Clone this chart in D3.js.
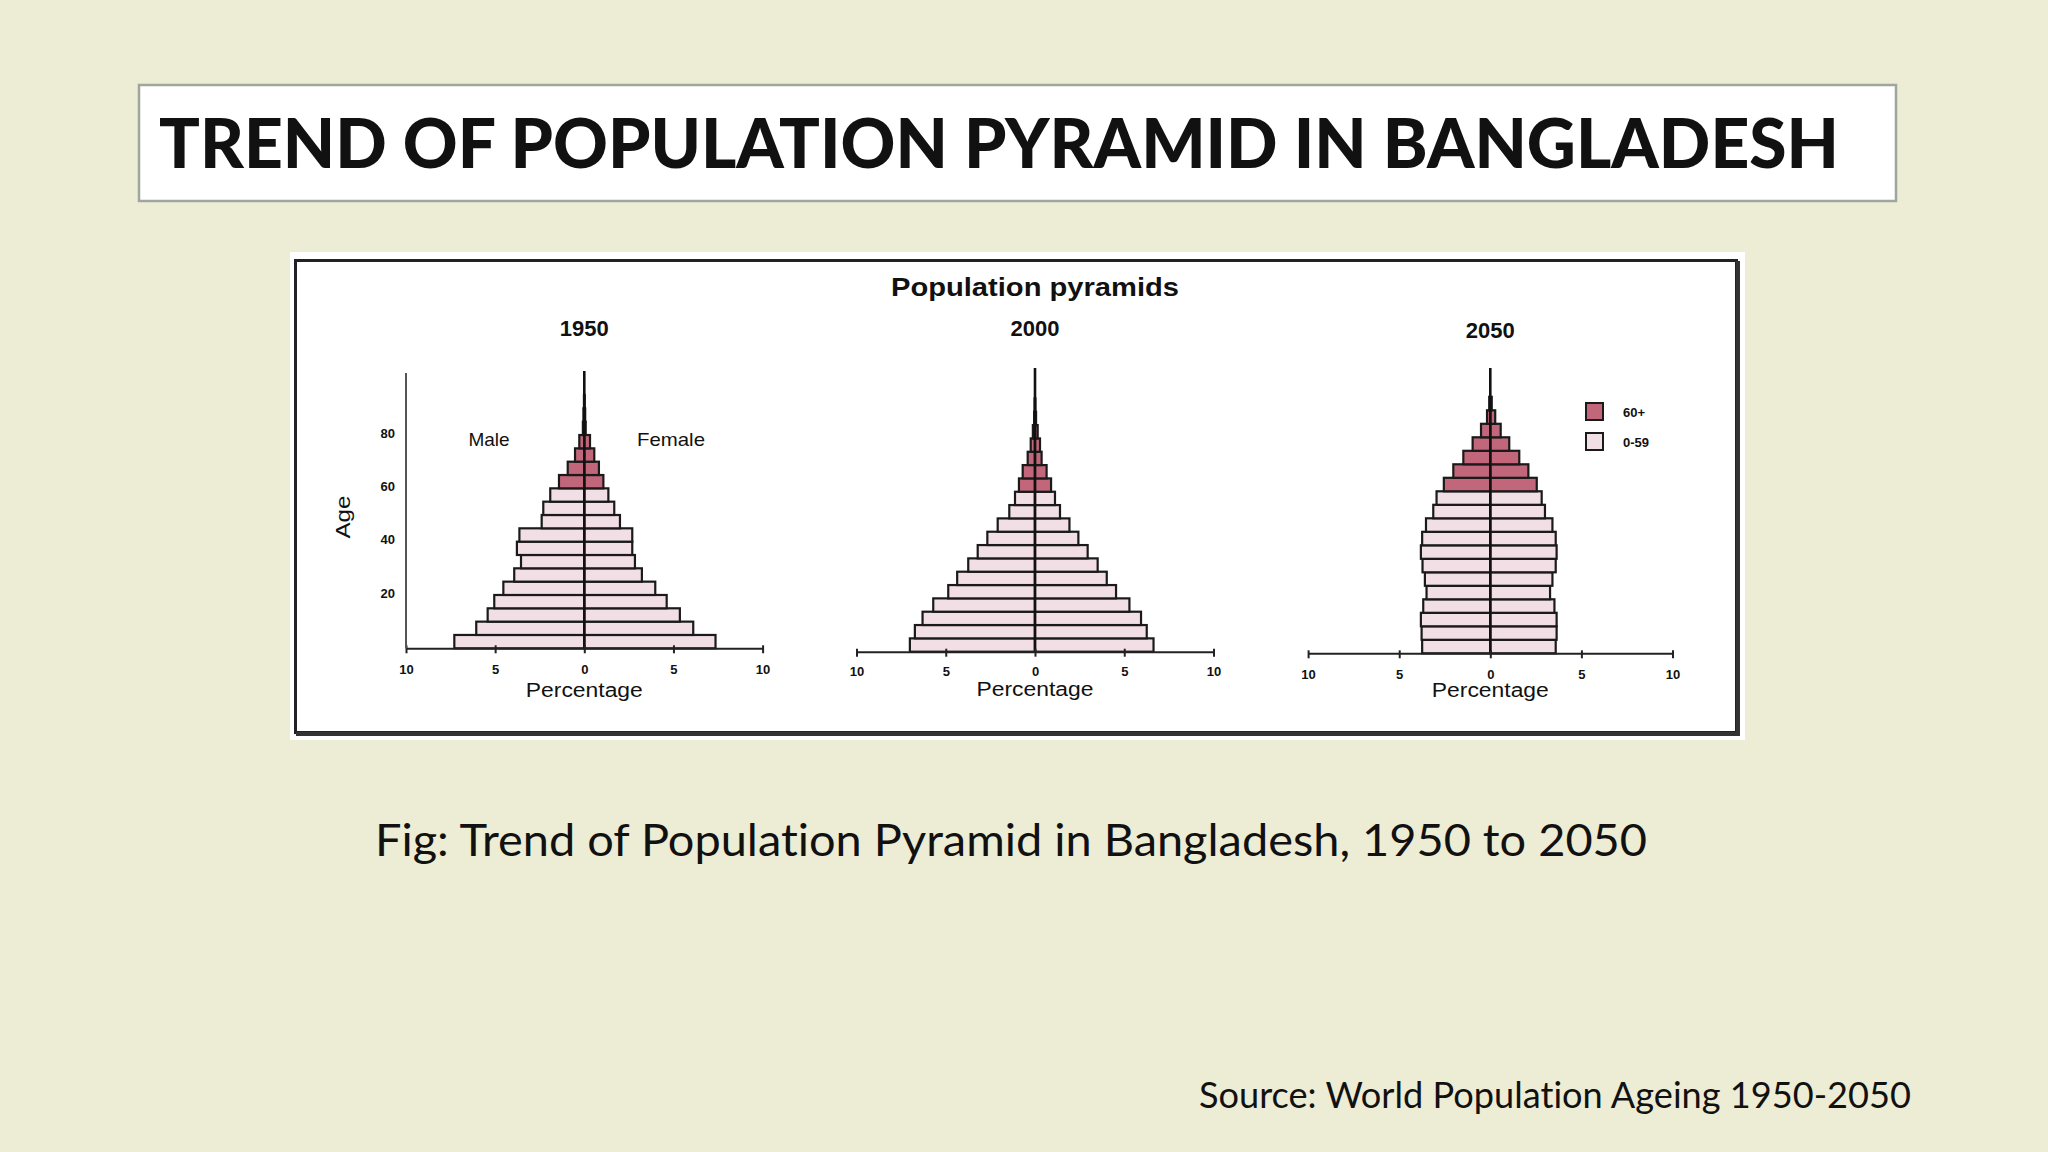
<!DOCTYPE html>
<html>
<head>
<meta charset="utf-8">
<script src="https://cdn.jsdelivr.net/npm/d3@7/dist/d3.min.js"></script>
<style>
  body { margin: 0; background: #edecd4; }
  svg { display: block; }
  text { font-family: "Liberation Sans", Arial, sans-serif; fill: #111; }
  .slide-text { font-family: Lato, "Open Sans", sans-serif; font-variant-ligatures: none; }
</style>
</head>
<body>
<div id="chart"></div>
<script>
// age groups (lower bound of each 5 year band)
var ageStarts = [0, 5, 10, 15, 20, 25, 30, 35, 40, 45, 50, 55, 60, 65, 70, 75, 80, 85, 90];

// percentage of population, youngest band first
var male1950   = [7.29, 6.06, 5.42, 5.05, 4.54, 3.93, 3.55, 3.78, 3.64, 2.39, 2.30, 1.91, 1.42, 0.93, 0.52, 0.28, 0.08, 0.05, 0.02];
var female1950 = [7.36, 6.11, 5.36, 4.62, 3.98, 3.23, 2.84, 2.69, 2.69, 2.00, 1.68, 1.35, 1.07, 0.82, 0.56, 0.32, 0.08, 0.05, 0.02];
var male2000   = [7.01, 6.73, 6.30, 5.70, 4.86, 4.36, 3.74, 3.21, 2.67, 2.09, 1.44, 1.12, 0.90, 0.69, 0.41, 0.24, 0.12, 0.05, 0.02];
var female2000 = [6.64, 6.26, 5.94, 5.29, 4.54, 4.02, 3.51, 2.95, 2.43, 1.93, 1.40, 1.12, 0.90, 0.65, 0.37, 0.28, 0.15, 0.06, 0.02];
var male2050   = [3.74, 3.77, 3.81, 3.68, 3.50, 3.59, 3.72, 3.81, 3.74, 3.53, 3.13, 2.95, 2.55, 2.03, 1.48, 0.97, 0.51, 0.18, 0.06];
var female2050 = [3.59, 3.64, 3.64, 3.52, 3.28, 3.41, 3.59, 3.64, 3.59, 3.41, 3.00, 2.82, 2.55, 2.09, 1.59, 1.04, 0.57, 0.27, 0.08];

var years = ['1950', '2000', '2050'];
var xTicks = [-10, -5, 0, 5, 10];
var ageTicks = [20, 40, 60, 80];
var legendItems = ['60+', '0-59'];

var color = {
  old: '#c2677b',
  young: '#f2dfe5',
  stroke: '#1a1a1a'
};

// where each little pyramid sits in the picture
var layout = [
  {cx: 584.3, half: 178.3, base: 648.3, barH: 13.33, top: 371, titleY: 336, tickY: 674, labelY: 697},
  {cx: 1035, half: 178.5, base: 651.7, barH: 13.33, top: 368, titleY: 336, tickY: 676, labelY: 696},
  {cx: 1490.3, half: 182.2, base: 653.3, barH: 13.5, top: 368, titleY: 338, tickY: 679, labelY: 697}
];
var series = [[male1950, female1950], [male2000, female2000], [male2050, female2050]];

var svg = d3.select('#chart').append('svg')
            .attr('width', 2048)
            .attr('height', 1152);

svg.append('rect')
   .attr('width', 2048).attr('height', 1152)
   .attr('fill', '#edecd4');

// slide title box
svg.append('rect')
   .attr('x', 139).attr('y', 85)
   .attr('width', 1757).attr('height', 116)
   .attr('fill', '#fff')
   .attr('stroke', '#9ea69e')
   .attr('stroke-width', 2.5);

svg.append('text')
   .attr('class', 'slide-text')
   .attr('x', 159).attr('y', 168)
   .attr('font-size', 68)
   .attr('font-weight', 900)
   .attr('textLength', 1680)
   .attr('lengthAdjust', 'spacingAndGlyphs')
   .text('TREND OF POPULATION PYRAMID IN BANGLADESH');

// the chart "image": white card with a dark frame
svg.append('rect')
   .attr('x', 290).attr('y', 252)
   .attr('width', 1455).attr('height', 488)
   .attr('fill', '#fff');

svg.append('rect')
   .attr('x', 295.5).attr('y', 260.5)
   .attr('width', 1441).attr('height', 472)
   .attr('fill', 'none')
   .attr('stroke', '#222')
   .attr('stroke-width', 3);
// heavier bottom/right edge
svg.append('path')
   .attr('d', 'M296,734 H1738 V261')
   .attr('fill', 'none')
   .attr('stroke', '#333')
   .attr('stroke-width', 4);

svg.append('text')
   .attr('x', 1035).attr('y', 296)
   .attr('text-anchor', 'middle')
   .attr('font-size', 25)
   .attr('font-weight', 700)
   .attr('textLength', 288)
   .attr('lengthAdjust', 'spacingAndGlyphs')
   .text('Population pyramids');

years.forEach(function(year, p) {
  var L = layout[p];
  var male = series[p][0], female = series[p][1];

  var x = d3.scaleLinear().domain([-10, 10]).range([L.cx - L.half, L.cx + L.half]);
  var y = d3.scaleLinear().domain([0, 5]).range([L.base, L.base - L.barH]);

  var g = svg.append('g').attr('class', 'pyramid');

  // year title
  g.append('text')
   .attr('x', L.cx).attr('y', L.titleY)
   .attr('text-anchor', 'middle')
   .attr('font-size', 22)
   .attr('font-weight', 700)
   .text(year);

  var rows = ageStarts.map(function(a, i) {
    return {age: a, male: male[i], female: female[i]};
  });

  // male bars go left, female bars go right
  g.selectAll('.bar-m')
   .data(rows)
   .enter().append('rect')
   .attr('class', 'bar-m')
   .attr('x', function(d) { return x(-d.male); })
   .attr('y', function(d) { return y(d.age + 5); })
   .attr('width', function(d) { return x(0) - x(-d.male); })
   .attr('height', function(d) { return y(d.age) - y(d.age + 5); })
   .attr('fill', function(d) { return d.age >= 60 ? color.old : color.young; })
   .attr('stroke', color.stroke)
   .attr('stroke-width', 2.2);

  g.selectAll('.bar-f')
   .data(rows)
   .enter().append('rect')
   .attr('class', 'bar-f')
   .attr('x', x(0))
   .attr('y', function(d) { return y(d.age + 5); })
   .attr('width', function(d) { return x(d.female) - x(0); })
   .attr('height', function(d) { return y(d.age) - y(d.age + 5); })
   .attr('fill', function(d) { return d.age >= 60 ? color.old : color.young; })
   .attr('stroke', color.stroke)
   .attr('stroke-width', 2.2);

  // center line
  g.append('line')
   .attr('x1', x(0)).attr('x2', x(0))
   .attr('y1', L.top).attr('y2', L.base)
   .attr('stroke', '#111')
   .attr('stroke-width', 2.6);

  // x axis
  var axis = d3.axisBottom(x)
               .tickValues(xTicks)
               .tickSize(5)
               .tickSizeOuter(0)
               .tickFormat(function(d) { return Math.abs(d); });

  var ax = g.append('g')
            .attr('transform', 'translate(0,' + L.base + ')')
            .call(axis);
  ax.select('.domain').attr('stroke', '#222').attr('stroke-width', 2);
  ax.selectAll('.tick line').attr('stroke', '#222').attr('stroke-width', 2)
    .attr('y1', -3);
  ax.selectAll('.tick text')
    .attr('y', L.tickY - L.base)
    .attr('dy', 0)
    .attr('font-size', 13)
    .attr('font-weight', 700)
    .attr('font-family', '"Liberation Sans", Arial, sans-serif')
    .attr('fill', '#111');

  g.append('text')
   .attr('x', L.cx).attr('y', L.labelY)
   .attr('text-anchor', 'middle')
   .attr('font-size', 20)
   .attr('textLength', 117)
   .attr('lengthAdjust', 'spacingAndGlyphs')
   .text('Percentage');

  if (p == 0) {
    // age axis only on the first pyramid
    var ageScale = d3.scaleLinear().domain([0, 5]).range([L.base, L.base - L.barH]);
    g.append('line')
     .attr('x1', x(-10)).attr('x2', x(-10))
     .attr('y1', 373).attr('y2', L.base)
     .attr('stroke', '#555')
     .attr('stroke-width', 2);

    g.selectAll('.age-label')
     .data(ageTicks)
     .enter().append('text')
     .attr('class', 'age-label')
     .attr('x', 395)
     .attr('y', function(d) { return ageScale(d) - 2; })
     .attr('dy', '0.35em')
     .attr('text-anchor', 'end')
     .attr('font-size', 13)
     .attr('font-weight', 700)
     .text(function(d) { return d; });

    g.append('text')
     .attr('transform', 'translate(350,517)rotate(-90)')
     .attr('text-anchor', 'middle')
     .attr('font-size', 21)
     .attr('textLength', 43)
     .attr('lengthAdjust', 'spacingAndGlyphs')
     .text('Age');

    g.append('text')
     .attr('x', 489).attr('y', 446)
     .attr('text-anchor', 'middle')
     .attr('font-size', 19)
     .text('Male');

    g.append('text')
     .attr('x', 671).attr('y', 446)
     .attr('text-anchor', 'middle')
     .attr('font-size', 19)
     .attr('textLength', 68)
     .attr('lengthAdjust', 'spacingAndGlyphs')
     .text('Female');
  }
});

// legend
var legend = svg.append('g')
                .attr('transform', 'translate(1586,403)');

var key = legend.selectAll('g')
                .data(legendItems)
                .enter().append('g')
                .attr('transform', function(d, i) { return 'translate(0,' + (i * 30) + ')'; });

key.append('rect')
   .attr('width', 17).attr('height', 17)
   .attr('fill', function(d, i) { return i == 0 ? color.old : color.young; })
   .attr('stroke', color.stroke)
   .attr('stroke-width', 2);

key.append('text')
   .attr('x', 37).attr('y', 14)
   .attr('font-size', 13)
   .attr('font-weight', 700)
   .text(function(d) { return d; });

// caption and source
svg.append('text')
   .attr('class', 'slide-text')
   .attr('x', 375).attr('y', 856)
   .attr('font-size', 45)
   .attr('textLength', 1272)
   .attr('lengthAdjust', 'spacingAndGlyphs')
   .text('Fig: Trend of Population Pyramid in Bangladesh, 1950 to 2050');

svg.append('text')
   .attr('class', 'slide-text')
   .attr('x', 1199).attr('y', 1108)
   .attr('font-size', 36)
   .attr('textLength', 712)
   .attr('lengthAdjust', 'spacingAndGlyphs')
   .text('Source: World Population Ageing 1950-2050');
</script>
</body>
</html>
